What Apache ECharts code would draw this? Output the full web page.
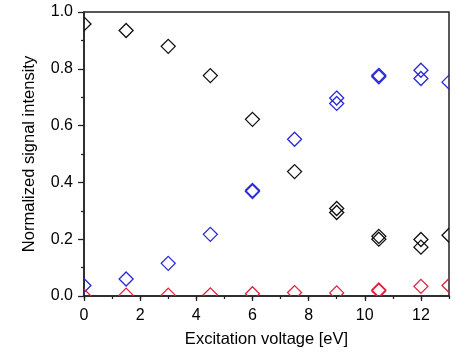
<!DOCTYPE html>
<html>
<head>
<meta charset="utf-8">
<script src="https://cdn.jsdelivr.net/npm/echarts@6/dist/echarts.min.js"></script>
<style>
html,body{margin:0;padding:0;background:#fff;}
#chart{width:474px;height:353px;}
</style>
</head>
<body>
<div id="chart"></div>
<script>
// Data: [x (eV), normalized intensity]
const blackSeries = [
  [0, 0.958], [1.5, 0.935], [3, 0.879], [4.5, 0.776], [6, 0.622], [7.5, 0.438],
  [9, 0.308], [9, 0.294], [10.5, 0.21], [10.5, 0.2], [12, 0.199], [12, 0.172], [13, 0.214]
];
const blueSeries = [
  [0, 0.037], [1.5, 0.06], [3, 0.115], [4.5, 0.217], [6, 0.372], [6, 0.368], [7.5, 0.552],
  [9, 0.697], [9, 0.678], [10.5, 0.777], [10.5, 0.772], [12, 0.795], [12, 0.766], [13, 0.753]
];
const redSeries = [
  [0, 0.0], [1.5, 0.003], [3, 0.003], [4.5, 0.004], [6, 0.008], [7.5, 0.012],
  [9, 0.011], [10.5, 0.021], [10.5, 0.018], [12, 0.034], [13, 0.037]
];
const xTicksMajor = 2;
const xTicksMinor = 1;
const yTickInterval = 0.2;

const chart = echarts.init(document.getElementById('chart'), null, {renderer: 'canvas'});

function diamond(color) {
  return function (params, api) {
    const p = api.coord([api.value(0), api.value(1)]);
    const h = 7;
    return {
      type: 'polygon',
      shape: {points: [[p[0], p[1] - h], [p[0] + h, p[1]], [p[0], p[1] + h], [p[0] - h, p[1]]]},
      style: {fill: 'none', stroke: color, lineWidth: 1.3}
    };
  };
}

const fontFamily = '"Liberation Sans", Arial, sans-serif';

chart.setOption({
  animation: false,
  grid: {
    left: 84, right: 25, top: 12, bottom: 55,
    show: true, borderColor: '#222', borderWidth: 1.5, backgroundColor: 'transparent'
  },
  xAxis: [
    {
      type: 'value', min: 0, max: 13, interval: xTicksMinor,
      axisLine: {show: true, lineStyle: {color: '#222', width: 1.5}},
      axisTick: {show: true, length: 3, lineStyle: {color: '#222', width: 1.3}},
      axisLabel: {show: false},
      splitLine: {show: false}
    },
    {
      type: 'value', min: 0, max: 13, interval: xTicksMajor, position: 'bottom',
      axisLine: {show: false},
      axisTick: {show: true, length: 5, lineStyle: {color: '#222', width: 1.3}},
      axisLabel: {show: true, showMaxLabel: false, margin: 12, color: '#000', fontSize: 16, fontFamily: fontFamily},
      splitLine: {show: false},
      name: 'Excitation voltage [eV]',
      nameLocation: 'middle', nameGap: 35,
      nameTextStyle: {color: '#000', fontSize: 16.5, fontFamily: fontFamily}
    }
  ],
  yAxis: {
    type: 'value', min: 0, max: 1, interval: yTickInterval,
    axisLine: {show: true, lineStyle: {color: '#222', width: 1.5}},
    axisTick: {show: true, length: 6, lineStyle: {color: '#222', width: 1.3}},
    minorTick: {show: true, splitNumber: 2, length: 3, lineStyle: {color: '#222', width: 1.3}},
    axisLabel: {margin: 11, color: '#000', fontSize: 16, fontFamily: fontFamily,
      formatter: function (v) { return v.toFixed(1); }},
    splitLine: {show: false},
    name: 'Normalized signal intensity',
    nameLocation: 'middle', nameGap: 46,
    nameTextStyle: {color: '#000', fontSize: 16.5, fontFamily: fontFamily}
  },
  series: [
    {type: 'custom', name: 'black', xAxisIndex: 0, clip: true, data: blackSeries, renderItem: diamond('#111111'), encode: {x: 0, y: 1}},
    {type: 'custom', name: 'blue', xAxisIndex: 0, clip: true, data: blueSeries, renderItem: diamond('#2a2ad8'), encode: {x: 0, y: 1}},
    {type: 'custom', name: 'red', xAxisIndex: 0, clip: true, data: redSeries, renderItem: diamond('#e0203c'), encode: {x: 0, y: 1}}
  ]
});
</script>
</body>
</html>
